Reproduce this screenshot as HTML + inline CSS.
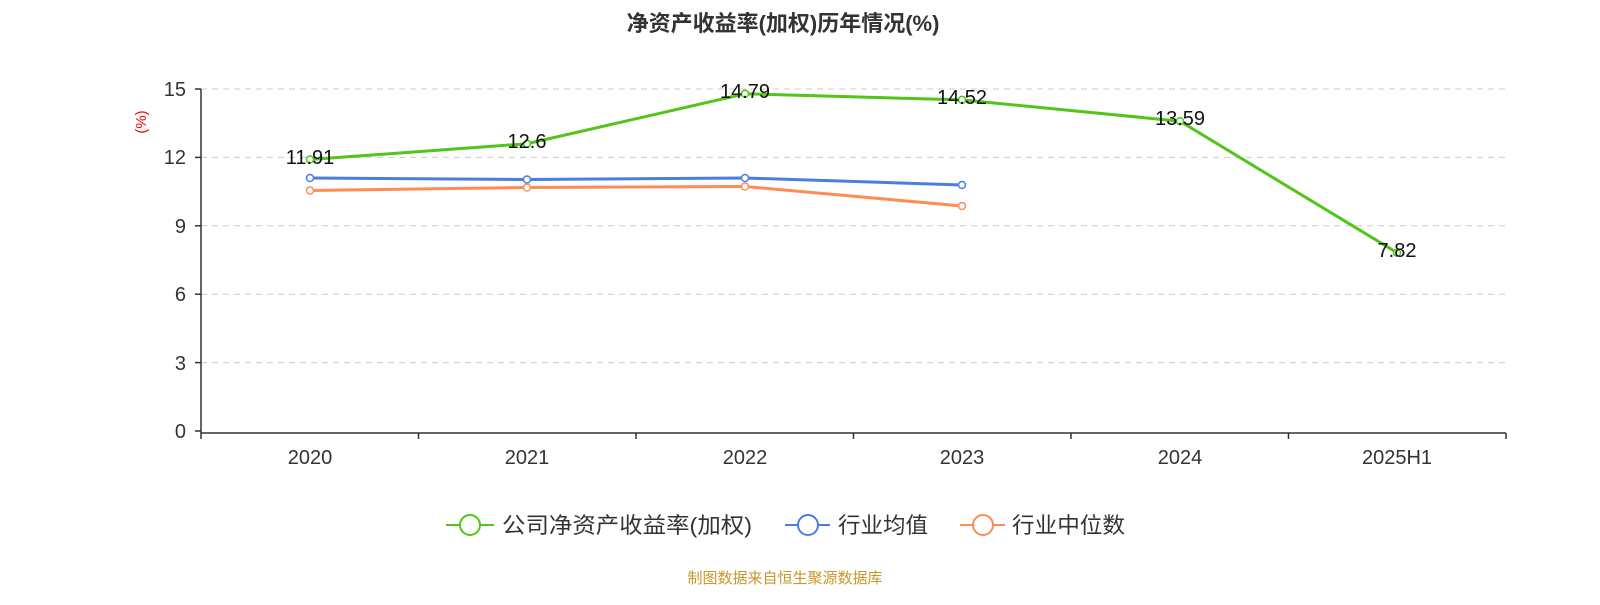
<!DOCTYPE html>
<html><head><meta charset="utf-8"><style>
body{margin:0;background:#fff;}
svg text{font-family:"Liberation Sans","Noto Sans CJK SC",sans-serif;}
</style></head><body>
<svg width="1600" height="600" viewBox="0 0 1600 600" xmlns="http://www.w3.org/2000/svg">
<text x="783" y="31" text-anchor="middle" font-size="22" font-weight="bold" fill="#333">净资产收益率(加权)历年情况(%)</text>
<text x="146" y="122" font-size="15" fill="#e00" text-anchor="middle" transform="rotate(-90 146 122)">(%)</text>
<g stroke="#ccc" stroke-dasharray="6,5" stroke-width="1">
<line x1="201" x2="1506" y1="89" y2="89"/><line x1="201" x2="1506" y1="157.4" y2="157.4"/>
<line x1="201" x2="1506" y1="225.8" y2="225.8"/><line x1="201" x2="1506" y1="294.2" y2="294.2"/>
<line x1="201" x2="1506" y1="362.6" y2="362.6"/></g>
<g stroke="#333" stroke-width="1.5">
<line x1="201" x2="201" y1="89" y2="433"/><line x1="201" x2="1506" y1="433" y2="433"/>
<line x1="195" x2="201" y1="89" y2="89"/><line x1="195" x2="201" y1="157.4" y2="157.4"/>
<line x1="195" x2="201" y1="225.8" y2="225.8"/><line x1="195" x2="201" y1="294.2" y2="294.2"/>
<line x1="195" x2="201" y1="362.6" y2="362.6"/><line x1="195" x2="201" y1="431" y2="431"/>
<line x1="201" x2="201" y1="433" y2="439"/><line x1="418.5" x2="418.5" y1="433" y2="439"/>
<line x1="636" x2="636" y1="433" y2="439"/><line x1="853.5" x2="853.5" y1="433" y2="439"/>
<line x1="1071" x2="1071" y1="433" y2="439"/><line x1="1288.5" x2="1288.5" y1="433" y2="439"/>
<line x1="1506" x2="1506" y1="433" y2="439"/></g>
<g font-size="20" fill="#333" text-anchor="end">
<text x="186" y="96">15</text><text x="186" y="164">12</text><text x="186" y="233">9</text>
<text x="186" y="301">6</text><text x="186" y="370">3</text><text x="186" y="438">0</text></g>
<g font-size="20" fill="#333" text-anchor="middle">
<text x="310" y="464">2020</text><text x="527" y="464">2021</text><text x="745" y="464">2022</text>
<text x="962" y="464">2023</text><text x="1180" y="464">2024</text><text x="1397" y="464">2025H1</text></g>
<polyline fill="none" stroke="#52c41a" stroke-width="3" points="310,159.5 527,143.7 745,93.8 962,99.9 1180,121.2 1397,252.7"/>
<polyline fill="none" stroke="#4a7ee0" stroke-width="3" points="310,178 527,179.5 745,178 962,185"/>
<polyline fill="none" stroke="#ff8c55" stroke-width="3" points="310,190.5 527,187.5 745,186.5 962,206"/>
<g fill="#fff" stroke-width="1.5">
<g stroke="#52c41a"><circle cx="310" cy="159.5" r="3.5"/><circle cx="527" cy="143.7" r="3.5"/><circle cx="745" cy="93.8" r="3.5"/><circle cx="962" cy="99.9" r="3.5"/><circle cx="1180" cy="121.2" r="3.5"/><circle cx="1397" cy="252.7" r="3.5"/></g>
<g stroke="#4a7ee0"><circle cx="310" cy="178" r="3.5"/><circle cx="527" cy="179.5" r="3.5"/><circle cx="745" cy="178" r="3.5"/><circle cx="962" cy="185" r="3.5"/></g>
<g stroke="#ff8c55"><circle cx="310" cy="190.5" r="3.5"/><circle cx="527" cy="187.5" r="3.5"/><circle cx="745" cy="186.5" r="3.5"/><circle cx="962" cy="206" r="3.5"/></g></g>
<g font-size="20" fill="#111" text-anchor="middle">
<text x="310" y="164">11.91</text><text x="527" y="148">12.6</text><text x="745" y="98">14.79</text>
<text x="962" y="104">14.52</text><text x="1180" y="125">13.59</text><text x="1397" y="257">7.82</text></g>
<g stroke-width="2" fill="#fff">
<line x1="446" x2="494" y1="525" y2="525" stroke="#52c41a"/><circle cx="470" cy="525" r="10" stroke="#52c41a"/>
<line x1="785" x2="830" y1="525" y2="525" stroke="#4a7ee0"/><circle cx="808" cy="525" r="10" stroke="#4a7ee0"/>
<line x1="960" x2="1005" y1="525" y2="525" stroke="#ff8c55"/><circle cx="983" cy="525" r="10" stroke="#ff8c55"/>
</g>
<g font-size="22" fill="#333">
<text x="502" y="533" textLength="250" lengthAdjust="spacingAndGlyphs">公司净资产收益率(加权)</text>
<text x="838" y="533" textLength="90" lengthAdjust="spacingAndGlyphs">行业均值</text>
<text x="1012" y="533" textLength="113" lengthAdjust="spacingAndGlyphs">行业中位数</text></g>
<text x="785" y="583" font-size="15" fill="#c8962a" text-anchor="middle">制图数据来自恒生聚源数据库</text>
</svg>
</body></html>
